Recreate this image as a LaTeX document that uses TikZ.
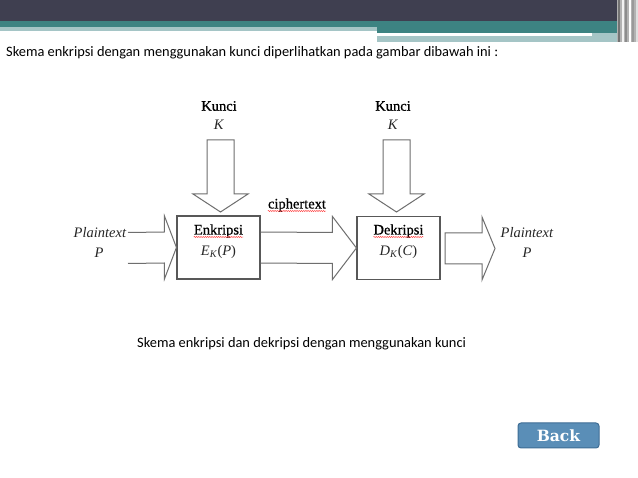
\documentclass[tikz,border=0pt]{standalone}
\usepackage{fontspec}
\setmainfont{Liberation Serif}
\newfontfamily\heavyserif{Liberation Serif}[FakeBold=0.7]
\newfontfamily\calibri{Carlito}
\newfontfamily\btnfont{DejaVu Serif}
\usetikzlibrary{calc,decorations.pathmorphing}

\definecolor{hdark}{HTML}{3F3F50}
\definecolor{hteal}{HTML}{3D8382}
\definecolor{hlight}{HTML}{A5C5C6}
\definecolor{agray}{HTML}{6E6E6E}
\definecolor{bgray}{HTML}{585858}
\definecolor{btnfill}{HTML}{5A8EB7}
\definecolor{btnborder}{HTML}{3E6D95}

% block arrow to the right: start, tip, shaft half width, head half width, head length, path end
\newcommand\blockR[6]{%
  \draw[barrow] ($(#1)+(0,#3)$) -- ($(#2)+(-#5,#3)$) -- ($(#2)+(-#5,#4)$) -- (#2)
    -- ($(#2)+(-#5,-#4)$) -- ($(#2)+(-#5,-#3)$) -- ($(#1)+(0,-#3)$) #6;}
% block arrow downwards
\newcommand\blockD[5]{%
  \draw[barrow] ($(#1)+(-#3,0)$) -- ($(#2)+(-#3,-#5)$) -- ($(#2)+(-#4,-#5)$) -- (#2)
    -- ($(#2)+(#4,-#5)$) -- ($(#2)+(#3,-#5)$) -- ($(#1)+(#3,0)$) -- cycle;}

\tikzset{
  barrow/.style={draw=agray, line width=1pt, line join=miter},
  box/.style={draw=bgray, line width=1.1pt, minimum width=83pt, minimum height=63pt, inner sep=0pt},
  lbl/.style={inner sep=0pt, font=\fontsize{14.5}{17}\selectfont, text=black!85},
  hlbl/.style={inner sep=0pt, font=\heavyserif\fontsize{14.5}{17}\selectfont, text=black},
  slide/.style={inner sep=0pt, anchor=base west, font=\calibri\fontsize{14.4}{17}\selectfont},
  squig/.style={draw=red!75, line width=0.45pt, decorate,
    decoration={snake, amplitude=0.6pt, segment length=2.2pt}},
  btn/.style={draw=btnborder, fill=btnfill, line width=1pt, rounded corners=3pt,
    minimum width=81pt, minimum height=25pt, inner sep=0pt, text=white,
    font=\btnfont\bfseries\fontsize{15.5}{18}\selectfont}
}

\begin{document}
\begin{tikzpicture}[x=1pt, y=-1pt]
\useasboundingbox (0,0) rectangle (638,478);
\fill[white] (0,0) rectangle (638,478);

% ---- header ----
\fill[hdark] (0,0) rectangle (638,21);
\fill[hteal] (0,21) rectangle (638,27);
\fill[hlight] (0,27) rectangle (377,31);
\fill[hteal] (377,27) rectangle (638,33);
\fill[hlight] (377,36) rectangle (620,42);
\fill[hlight] (592,33) rectangle (620,36);
\fill[white] (377,33) rectangle (592,35);
\fill[gray!60] (617,0) rectangle (638,42);
\fill[black!55] (618,0) rectangle (620,42);
\fill[white!90!gray] (622,0) rectangle (623.5,42);
\fill[black!45] (625,0) rectangle (627,42);
\fill[white] (629,0) rectangle (630.5,42);
\fill[black!40] (632,0) rectangle (634,42);
\fill[gray!25] (636,0) rectangle (638,42);

% ---- texts of the slide ----
\node[slide] (title) at (6,57) {Skema enkripsi dengan menggunakan kunci diperlihatkan pada gambar dibawah ini :};
\node[slide] (caption) at (137,348) {Skema enkripsi dan dekripsi dengan menggunakan kunci};

% ---- boxes ----
\node[box] (enk) at (218.5,247.5) {};
\node[box] (dek) at (398.5,248) {};
\node[hlbl] (enkname) at (218.5,231) {Enkripsi};
\node[lbl] (enkfun) at (218.5,252) {\textit{E}\textsubscript{\textit{K}}(\textit{P})};
\node[hlbl] (dekname) at (398.5,231) {Dekripsi};
\node[lbl] (dekfun) at (398.5,252) {\textit{D}\textsubscript{\textit{K}}(\textit{C})};

% ---- labels ----
\node[hlbl] (kunci1) at (219,106) {Kunci};
\node[lbl] (key1) at (219,125) {\textit{K}};
\node[hlbl] (kunci2) at (393,106) {Kunci};
\node[lbl] (key2) at (393,125) {\textit{K}};
\node[lbl] (plain1) at (100,233) {\textit{Plaintext}};
\node[lbl] (p1) at (99,253) {\textit{P}};
\node[lbl] (plain2) at (527,233) {\textit{Plaintext}};
\node[lbl] (p2) at (527,253) {\textit{P}};
\node[hlbl] (cipher) at (297,205) {ciphertext};

% spell-check squiggles
\draw[squig] ($(enkname.base west)+(0,2.5)$) -- ($(enkname.base east)+(0,2.5)$);
\draw[squig] ($(dekname.base west)+(0,2.5)$) -- ($(dekname.base east)+(0,2.5)$);
\draw[squig] ($(cipher.base west)+(0,2.5)$) -- ($(cipher.base east)+(0,2.5)$);

% ---- block arrows ----
\coordinate (lin) at (128,248);
\coordinate (rin) at (445,248.5);
\coordinate (rtip) at (495,248.5);
\coordinate (k1top) at (220.5,140);
\coordinate (k1tip) at (220.5,212);
\coordinate (k2top) at (396.5,140);
\coordinate (k2tip) at (396.5,212);

\blockR{lin}{enk.west}{15.5}{31.5}{12}{}
\blockR{enk.east}{dek.west}{15.5}{31.5}{24}{}
\blockR{rin}{rtip}{15.5}{31.5}{13}{-- cycle}
\blockD{k1top}{k1tip}{13.5}{27.5}{18}
\blockD{k2top}{k2tip}{13.5}{27.5}{18}

% ---- back button ----
\node[btn] (back) at (558.5,435.5) {Back};
\end{tikzpicture}
\end{document}
